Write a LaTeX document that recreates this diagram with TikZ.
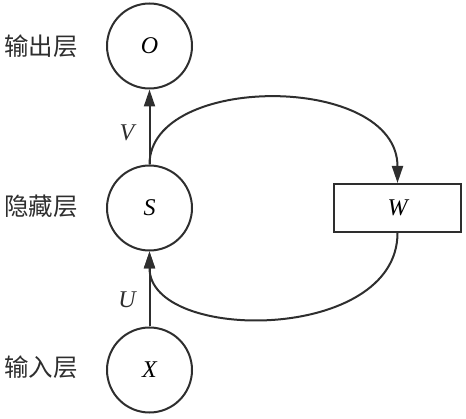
\documentclass[tikz,border=0pt]{standalone}
\usepackage{fontspec}
\setmainfont{Liberation Serif}
\newfontfamily\cjk{Noto Sans CJK SC}
\usetikzlibrary{arrows.meta}
\definecolor{ink}{HTML}{2E2E2E}
\begin{document}
\begin{tikzpicture}[x=1pt,y=1pt,
  neuron/.style={circle,draw=ink,line width=2pt,minimum size=85pt,inner sep=0pt,font=\fontsize{24}{27}\selectfont\itshape},
  wbox/.style={rectangle,draw=ink,line width=2pt,minimum width=127pt,minimum height=48pt,inner sep=0pt,font=\fontsize{24}{27}\selectfont\itshape},
  layer/.style={font=\cjk\fontsize{24.5}{28}\selectfont,text=ink,inner sep=0pt},
  wlab/.style={font=\fontsize{24}{27}\selectfont\itshape,text=ink,inner sep=0pt},
  conn/.style={draw=ink,line width=2pt,-{Triangle[length=17pt,width=11pt]}}]
\useasboundingbox (0,0) rectangle (466,418);
\node[neuron] (O) at (149.5,372) {O};
\node[neuron] (S) at (149.5,210) {S};
\node[neuron] (X) at (149.5,48) {X};
\node[wbox] (W) at (397.5,210) {W};
\node[layer] (lo) at (41,372) {输出层};
\node[layer] (ls) at (41,212) {隐藏层};
\node[layer] (lx) at (41,51) {输入层};
\node[wlab] (v) at (127,285) {V};
\node[wlab] (u) at (127,118) {U};
\draw[conn] (S.north) -- (O.south);
\draw[conn] (X.north) -- (S.south);
\draw[conn] (S.north) .. controls (149.5,345) and (397.5,345) .. (W.north);
\draw[conn] (W.south) .. controls (397.5,75) and (149.5,75) .. (S.south);
\end{tikzpicture}
\end{document}
